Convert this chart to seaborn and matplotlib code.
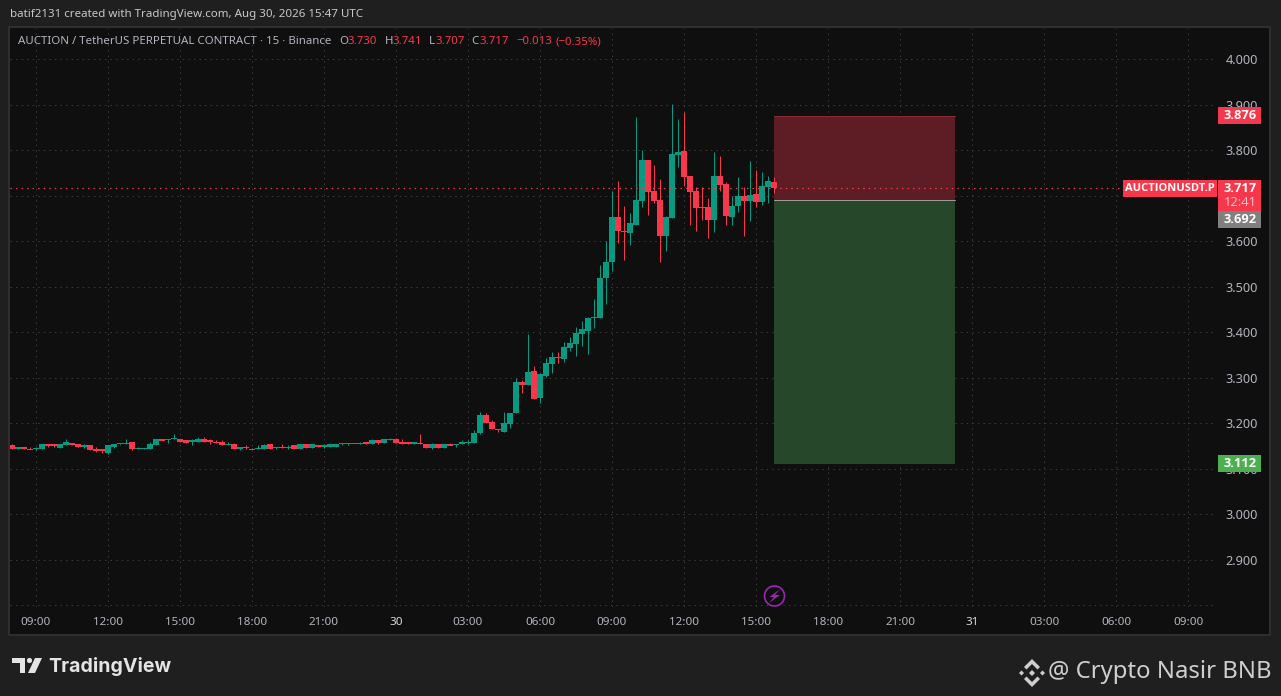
import matplotlib
matplotlib.use('Agg')
import pandas as pd
import matplotlib.pyplot as plt
import seaborn as sns
from matplotlib.patches import Rectangle, Polygon, Circle

# 15 minute candles, first one is 08:00 on Aug 29
opens = [3.152, 3.143, 3.149, 3.145, 3.143, 3.145, 3.154, 3.154, 3.147, 3.152, 3.158, 3.154, 3.149, 3.152, 3.143, 3.143,
         3.136, 3.149, 3.154, 3.154, 3.160, 3.143, 3.143, 3.143, 3.152, 3.165, 3.163, 3.165, 3.167, 3.163, 3.160, 3.160,
         3.167, 3.163, 3.160, 3.160, 3.152, 3.156, 3.145, 3.149, 3.145, 3.143, 3.145, 3.154, 3.147, 3.149, 3.147, 3.152,
         3.145, 3.156, 3.147, 3.152, 3.149, 3.149, 3.149, 3.154, 3.154, 3.154, 3.154, 3.160, 3.156, 3.163, 3.158, 3.163,
         3.167, 3.160, 3.160, 3.156, 3.158, 3.156, 3.147, 3.154, 3.147, 3.154, 3.152, 3.154, 3.158, 3.158, 3.180, 3.218,
         3.204, 3.189, 3.182, 3.198, 3.222, 3.292, 3.284, 3.316, 3.255, 3.305, 3.330, 3.347, 3.341, 3.367, 3.374, 3.396,
         3.404, 3.431, 3.431, 3.519, 3.554, 3.653, 3.624, 3.618, 3.637, 3.690, 3.780, 3.710, 3.692, 3.613, 3.651, 3.789,
         3.798, 3.743, 3.710, 3.675, 3.675, 3.648, 3.745, 3.727, 3.653, 3.677, 3.701, 3.688, 3.705, 3.686, 3.719, 3.730]
highs = [3.156, 3.149, 3.149, 3.149, 3.149, 3.154, 3.154, 3.154, 3.156, 3.165, 3.158, 3.156, 3.154, 3.152, 3.149, 3.145,
         3.152, 3.156, 3.156, 3.165, 3.160, 3.149, 3.147, 3.160, 3.165, 3.167, 3.167, 3.176, 3.167, 3.163, 3.165, 3.171,
         3.171, 3.167, 3.163, 3.163, 3.160, 3.158, 3.149, 3.152, 3.147, 3.152, 3.156, 3.156, 3.149, 3.154, 3.152, 3.152,
         3.156, 3.156, 3.154, 3.152, 3.154, 3.154, 3.156, 3.158, 3.158, 3.156, 3.160, 3.160, 3.167, 3.163, 3.165, 3.169,
         3.169, 3.167, 3.160, 3.160, 3.176, 3.156, 3.158, 3.156, 3.156, 3.158, 3.156, 3.163, 3.163, 3.185, 3.226, 3.222,
         3.207, 3.189, 3.226, 3.224, 3.301, 3.295, 3.396, 3.327, 3.310, 3.345, 3.358, 3.358, 3.380, 3.391, 3.413, 3.426,
         3.433, 3.473, 3.549, 3.601, 3.712, 3.734, 3.677, 3.662, 3.873, 3.802, 3.780, 3.769, 3.738, 3.657, 3.903, 3.870,
         3.884, 3.745, 3.719, 3.719, 3.695, 3.796, 3.787, 3.730, 3.701, 3.741, 3.719, 3.776, 3.758, 3.752, 3.743, 3.741]
lows = [3.143, 3.143, 3.143, 3.143, 3.141, 3.145, 3.149, 3.149, 3.147, 3.152, 3.152, 3.149, 3.147, 3.141, 3.138, 3.136,
        3.134, 3.147, 3.152, 3.154, 3.141, 3.143, 3.143, 3.143, 3.152, 3.163, 3.158, 3.165, 3.160, 3.158, 3.152, 3.160,
        3.160, 3.156, 3.158, 3.152, 3.152, 3.145, 3.141, 3.143, 3.143, 3.143, 3.145, 3.145, 3.145, 3.147, 3.145, 3.145,
        3.145, 3.147, 3.147, 3.149, 3.147, 3.149, 3.149, 3.152, 3.152, 3.154, 3.154, 3.154, 3.156, 3.156, 3.158, 3.163,
        3.158, 3.156, 3.154, 3.154, 3.156, 3.147, 3.145, 3.147, 3.147, 3.152, 3.149, 3.154, 3.156, 3.158, 3.176, 3.200,
        3.187, 3.182, 3.182, 3.191, 3.222, 3.266, 3.284, 3.253, 3.244, 3.303, 3.312, 3.332, 3.336, 3.360, 3.349, 3.371,
        3.352, 3.409, 3.431, 3.462, 3.535, 3.596, 3.560, 3.593, 3.637, 3.675, 3.659, 3.684, 3.554, 3.580, 3.651, 3.763,
        3.721, 3.637, 3.624, 3.648, 3.607, 3.620, 3.712, 3.637, 3.637, 3.664, 3.611, 3.644, 3.675, 3.681, 3.684, 3.707]
closes = [3.143, 3.149, 3.143, 3.143, 3.145, 3.154, 3.152, 3.152, 3.154, 3.160, 3.152, 3.149, 3.152, 3.141, 3.141, 3.141,
          3.152, 3.156, 3.156, 3.156, 3.143, 3.145, 3.145, 3.156, 3.165, 3.163, 3.165, 3.167, 3.160, 3.158, 3.163, 3.167,
          3.160, 3.160, 3.158, 3.152, 3.156, 3.145, 3.147, 3.147, 3.143, 3.147, 3.152, 3.145, 3.149, 3.147, 3.149, 3.145,
          3.156, 3.147, 3.154, 3.149, 3.152, 3.154, 3.156, 3.156, 3.156, 3.156, 3.158, 3.154, 3.163, 3.158, 3.165, 3.167,
          3.158, 3.156, 3.154, 3.158, 3.156, 3.147, 3.156, 3.147, 3.154, 3.152, 3.154, 3.160, 3.160, 3.180, 3.218, 3.200,
          3.187, 3.187, 3.200, 3.224, 3.292, 3.284, 3.314, 3.253, 3.308, 3.332, 3.347, 3.345, 3.369, 3.378, 3.398, 3.407,
          3.431, 3.433, 3.519, 3.556, 3.653, 3.622, 3.620, 3.640, 3.692, 3.780, 3.708, 3.688, 3.613, 3.653, 3.793, 3.796,
          3.741, 3.708, 3.673, 3.673, 3.648, 3.743, 3.725, 3.655, 3.679, 3.701, 3.688, 3.703, 3.686, 3.721, 3.732, 3.717]

price_ticks = [2.8, 2.9, 3.0, 3.1, 3.2, 3.3, 3.4, 3.5, 3.6, 3.7, 3.8, 3.9, 4.0]
price_labels = ['', '2.900', '3.000', '3.100', '3.200', '3.300', '3.400', '3.500', '3.600', '', '3.800', '3.900', '4.000']
time_labels = ['09:00', '12:00', '15:00', '18:00', '21:00', '30', '03:00', '06:00', '09:00', '12:00', '15:00', '18:00',
               '21:00', '31', '03:00', '06:00', '09:00']

stop_price = 3.876
entry_price = 3.692
target_price = 3.112
last_price = 3.717

GREEN = '#089981'
RED = '#f7374b'
BG = '#1f1f1f'
PANEL = '#0f0f0f'
GRID = '#3c3c3c'
TEXT = '#b2b5be'
TAG_FONT = 'Open Sans'
BODY_WIDTH = 0.84
MIN_BODY = 0.0024  # about one pixel, so doji bodies stay visible

W, H = 1281, 696
df = pd.DataFrame({'open': opens, 'high': highs, 'low': lows, 'close': closes})
df['bar'] = range(-4, len(df) - 4)
df['height'] = df['close'] - df['open']
df.loc[df['height'].abs() < MIN_BODY, 'height'] = df['height'].apply(lambda h: MIN_BODY if h >= 0 else -MIN_BODY)
up = df[df['close'] >= df['open']]
down = df[df['close'] < df['open']]

sns.set_theme(style='dark', rc={'figure.facecolor': BG, 'axes.facecolor': 'none', 'text.color': TEXT})
plt.rcParams['font.family'] = ['Noto Sans', 'DejaVu Sans']

fig = plt.figure(figsize=(W / 100, H / 100), dpi=100, facecolor=BG)
fig.add_artist(Rectangle((9 / W, 1 - 635 / H), 1261 / W, 608 / H, transform=fig.transFigure,
                         fc=PANEL, ec='#2e2e2e', lw=1.5, zorder=-1))

ax = fig.add_axes([10 / W, 1 - 606.5 / H, 1207 / W, 579 / H])
sns.barplot(data=up, x='bar', y='height', bottom=up['open'].values, native_scale=True, color=GREEN, saturation=1,
            width=BODY_WIDTH, errorbar=None, linewidth=0, ax=ax, zorder=3)
sns.barplot(data=down, x='bar', y='height', bottom=down['open'].values, native_scale=True, color=RED, saturation=1,
            width=BODY_WIDTH, errorbar=None, linewidth=0, ax=ax, zorder=3)
ax.vlines(up['bar'], up['low'], up['high'], color=GREEN, lw=0.72, zorder=2.9)
ax.vlines(down['bar'], down['low'], down['high'], color=RED, lw=0.72, zorder=2.9)

ax.set_xlim(-4.33, 196.83)
ax.set_ylim(2.7978, 4.0703)
ax.set_xticks(range(0, 12 * len(time_labels), 12))
ax.set_xticklabels(time_labels)
ax.set_yticks(price_ticks)
ax.set_yticklabels(price_labels)
ax.yaxis.tick_right()
ax.tick_params(axis='y', length=0, pad=6, labelsize=9.2, labelcolor=TEXT)
ax.tick_params(axis='x', length=0, pad=7.7, labelsize=8.4, labelcolor=TEXT)
for t in ax.get_xticklabels():
    if t.get_text() in ('30', '31'):
        t.set_color('#d8dae0')
        t.set_fontweight('bold')
ax.grid(True, color=GRID, lw=0.72, linestyle=(0, (1.39, 4.17)), zorder=0)
ax.set_axisbelow(True)
for s in ax.spines.values():
    s.set_visible(False)

# long position tool
ax.fill_between([123, 153.17], entry_price, stop_price, color='#5e1d25', lw=0, zorder=4)
ax.fill_between([123, 153.17], target_price, entry_price, color='#26472a', lw=0, zorder=4)
ax.plot([123, 153.17], [stop_price, stop_price], color='#8a2a35', lw=0.72, zorder=5)
ax.plot([123, 153.17], [entry_price, entry_price], color='#9a9a9a', lw=0.72, zorder=5)
ax.axhline(last_price, color='#ff3b4f', lw=0.9, linestyle=(0, (1.1, 3.33)), zorder=6)
sns.barplot(data=df.tail(1), x='bar', y='height', bottom=df.tail(1)['open'].values, native_scale=True, color=RED,
            saturation=1, width=BODY_WIDTH, errorbar=None, linewidth=0, ax=ax, zorder=5)
ax.vlines(df['bar'].iloc[-1], df['low'].iloc[-1], df['high'].iloc[-1], color=RED, lw=0.72, zorder=4.9)
ax.set_xlim(-4.33, 196.83)
ax.set_xlabel('')
ax.set_ylabel('')

# pixel overlay for tags, header and logos
ov = fig.add_axes([0, 0, 1, 1], facecolor='none')
ov.set_xlim(0, W)
ov.set_ylim(H, 0)
ov.axis('off')
fig.canvas.draw()


def py(price):
    return H - ax.transData.transform((0, price))[1]


def tag(y, label, color):
    ov.add_patch(Rectangle((1218, y - 8.5), 43, 17, fc=color, ec='none'))
    ov.text(1240.5, y, label, color='white', fontsize=9.3, fontweight='bold', family=TAG_FONT, ha='center', va='center')


tag(py(stop_price), '3.876', RED)
tag(py(target_price), '3.112', '#4caf50')
y_last = py(last_price)
ov.add_patch(Rectangle((1123, y_last - 8.5), 94, 17, fc=RED, ec='none'))
ov.text(1170, y_last, 'AUCTIONUSDT.P', color='white', fontsize=8.0, fontweight='bold', family=TAG_FONT, ha='center',
        va='center')
ov.add_patch(Rectangle((1218, y_last - 8.5), 43, 31, fc=RED, ec='none'))
ov.text(1240.5, y_last, '3.717', color='white', fontsize=9.3, fontweight='bold', family=TAG_FONT, ha='center',
        va='center')
ov.text(1240.5, y_last + 14, '12:41', color='#fbc4ca', fontsize=9.3, family=TAG_FONT, ha='center', va='center')
# entry tag gets pushed below the countdown, it sits under the last price block
tag(y_last + 31, '3.692', '#808080')

# header
ov.text(10, 14.5, 'batif2131 created with TradingView.com, Aug 30, 2026 15:47 UTC', color='#c8c8c8', fontsize=8.3,
        va='center')
ov.text(18, 42, 'AUCTION / TetherUS PERPETUAL CONTRACT · 15 · Binance', color=TEXT, fontsize=8.25, va='center')
for x, s, c in [(339, 'O', TEXT), (348, '3.730', RED), (385, 'H', TEXT), (392.5, '3.741', RED), (429, 'L', TEXT),
                (435.5, '3.707', RED), (471.5, 'C', TEXT), (479, '3.717', RED), (516, '−0.013', RED),
                (556, '(−0.35%)', RED)]:
    ov.text(x, 42, s, color=c, fontsize=8.25, va='center')

# bolt marker
ov.add_patch(Circle((774.5, 596), 10, fc='none', ec='#9c27b0', lw=1.2))
ov.add_patch(Polygon([(780, 589), (769.5, 597), (774, 597), (769, 603), (780, 595), (775, 595)], fc='#9c27b0', ec='none'))

# TradingView logo
LOGO = '#e4e4e4'
ov.add_patch(Polygon([(12, 658), (25, 658), (25, 673), (20, 673), (20, 663), (12, 663)], fc=LOGO, ec='none'))
ov.add_patch(Circle((29.5, 660.5), 2.6, fc=LOGO, ec='none'))
ov.add_patch(Polygon([(35, 658), (42, 658), (35, 673), (28, 673)], fc=LOGO, ec='none'))
ov.text(48, 666, 'TradingView', color=LOGO, fontsize=14.1, fontweight='bold', family='Inter', va='center')

# watermark
WM = '#cfcfcf'
cx, cy = 1032, 673
ov.add_patch(Polygon([(cx - 3, cy), (cx, cy - 3), (cx + 3, cy), (cx, cy + 3)], fc=WM, ec='none'))
for sx in (-1, 1):
    ov.add_patch(Polygon([(cx + sx * 13, cy), (cx + sx * 10.5, cy - 2.5), (cx + sx * 8, cy), (cx + sx * 10.5, cy + 2.5)],
                         fc=WM, ec='none'))
    ov.add_patch(Polygon([(cx, cy + sx * 14), (cx + 8, cy + sx * 6), (cx + 5.5, cy + sx * 3.5), (cx, cy + sx * 9),
                          (cx - 5.5, cy + sx * 3.5), (cx - 8, cy + sx * 6)], fc=WM, ec='none'))
ov.text(1272, 672, '@ Crypto Nasir BNB', color=WM, fontsize=17.2, family='Noto Sans', ha='right', va='center')

fig.savefig('out.png', dpi=100, facecolor=BG)
